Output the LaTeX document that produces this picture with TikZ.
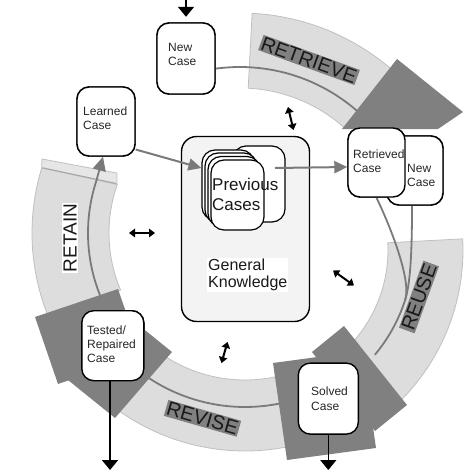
\documentclass[tikz,border=0pt]{standalone}
\usepackage{fontspec}
\setmainfont{Liberation Sans}
\usetikzlibrary{arrows.meta}
\definecolor{bandfill}{RGB}{221,221,221}
\definecolor{bandedge}{RGB}{192,192,192}
\definecolor{tabfill}{RGB}{230,230,230}
\definecolor{flowc}{RGB}{122,122,122}
\definecolor{darkc}{RGB}{128,128,128}
\definecolor{gkfill}{RGB}{243,243,243}
\begin{document}
\begin{tikzpicture}[x=1pt,y=-1pt,
  band/.style={fill=bandfill, draw=bandedge, line width=0.8pt},
  flow/.style={draw=flowc, line width=1.8pt},
  dark/.style={fill=darkc},
  casebox/.style={draw=black, line width=1.4pt, fill=white, rounded corners=12pt, inner sep=0pt},
  cardbox/.style={draw=black, line width=1.2pt, fill=white, rounded corners=13pt, inner sep=0pt},
  casetext/.style={font=\fontsize{12}{14}\selectfont, align=left, inner sep=0pt, text=black!85, anchor=west},
  bandlabel/.style={font=\fontsize{20}{20}\selectfont, inner sep=1.2pt, text=black!90},
  garrow/.style={draw=flowc, line width=2pt, -{Triangle[length=13pt,width=12pt]}},
  barrow/.style={draw=black, line width=1.6pt, -{Triangle[length=10pt,width=16pt]}},
  dbl/.style={draw=black, line width=2pt, {Triangle[length=6pt,width=8.5pt]}-{Triangle[length=6pt,width=8.5pt]}}]
\useasboundingbox (0,0) rectangle (474,474);
% ---- bands ----
\path[band] plot[domain=-87:-48,samples=40] ({240+232*cos(\x)},{245+232*sin(\x)})
  -- plot[domain=-48:-87,samples=40] ({240+157*cos(\x)},{245+157*sin(\x)}) -- cycle;
\path[band] plot[domain=-3:45,samples=40] ({250+213*cos(\x)},{250+213*sin(\x)})
  -- plot[domain=41:-3,samples=40] ({250+138*cos(\x)},{250+138*sin(\x)}) -- cycle;
\path[band] plot[domain=68:128,samples=40] ({245+218*cos(\x)},{233+218*sin(\x)})
  -- plot[domain=128:68,samples=40] ({245+147*cos(\x)},{233+147*sin(\x)}) -- cycle;
\path[band] plot[domain=157:197,samples=40] ({255+223*cos(\x)},{233+223*sin(\x)})
  -- plot[domain=199.4:157,samples=40] ({255+146*cos(\x)},{233+146*sin(\x)}) -- cycle;
\path[fill=tabfill, draw=bandedge, line width=0.8pt] (41.7,167.8) -- (117,184) -- (117,173) -- (42,159) -- cycle;
\draw[draw=gray!70, line width=1pt] (42.5,167.8) -- (116,183.5);
% ---- case boxes (placed early for names) ----
\path (186,58.5) node[casebox, minimum width=58pt, minimum height=71pt] (newcase) {};
\path (106,121.5) node[casebox, minimum width=58pt, minimum height=69pt] (learned) {};
\path (415,170.5) node[casebox, minimum width=56pt, minimum height=69pt] (nc2) {};
\path (376.5,162.5) node[casebox, minimum width=57pt, minimum height=69pt] (retr) {};
\path (112.8,345.7) node[casebox, minimum width=62pt, minimum height=70pt] (tested) {};
\path (328.3,398.6) node[casebox, minimum width=60pt, minimum height=71pt] (solved) {};
% ---- flow lines ----
\draw[flow] ([yshift=-10pt]newcase.east) -- plot[domain=-97:-49,samples=40] ({240+178*cos(\x)},{245+178*sin(\x)});
\draw[flow] (retr.south) .. controls (392,230) and (411.3,280.8) .. (405.2,299.8)
  -- plot[domain=17.8:40,samples=20] ({250+163*cos(\x)},{250+163*sin(\x)});
\draw[flow] ([xshift=-3pt]nc2.south) .. controls (412,240) and (411.3,280.8) .. (405.2,299.8);
\draw[flow] plot[domain=70:126,samples=40] ({245+174*cos(\x)},{233+174*sin(\x)});
\draw[flow, -{Triangle[length=14pt,width=13pt]}] plot[domain=155:198,samples=40] ({255+167*cos(\x)},{233+167*sin(\x)}) -- ([xshift=-3pt]learned.south);
% ---- dark heads and blocks ----
\fill[dark] (397,59) -- (463,112) -- (438,129) -- (342,129) -- cycle;
\fill[dark] (344,326) -- (407,405) -- (375,431) -- (312,352) -- cycle;
\fill[dark] (273,363) -- (362,351) -- (376,448) -- (287,460) -- cycle;
\fill[dark] (172,352) -- (115,418) -- (68,380) -- (125,314) -- cycle;
\fill[dark] (35,317) -- (118,289) -- (141,356) -- (58,384) -- cycle;
% ---- band labels ----
\node[bandlabel, fill=darkc, rotate=-20] (lretrieve) at (309,60) {RETRIEVE};
\node[bandlabel, fill=darkc, rotate=70] (lreuse) at (419,297) {REUSE};
\node[bandlabel, fill=darkc, rotate=-16] (lrevise) at (202.5,418.3) {REVISE};
\node[bandlabel, fill=white, rotate=90, font=\fontsize{19}{19}\selectfont] (lretain) at (70,238) {RETAIN};
% ---- general knowledge ----
\node[draw=black, line width=1.4pt, fill=gkfill, rounded corners=15pt, minimum width=128pt, minimum height=185pt] (gk) at (245.5,229) {};
\node[fill=white, inner sep=1pt, align=left, anchor=west, font=\fontsize{16}{17}\selectfont, text=black!90] (gktext) at (207,275) {General\\Knowledge};
\node[cardbox, minimum width=52pt, minimum height=76pt] (cardR) at (259,184) {};
\node[cardbox, minimum width=52pt, minimum height=70pt] (card1) at (228,185) {};
\node[cardbox, minimum width=52pt, minimum height=70pt] (card2) at (231,188) {};
\node[cardbox, minimum width=52pt, minimum height=70pt] (card3) at (234,191.5) {};
\node[cardbox, minimum width=53pt, minimum height=70pt] (card4) at (237.5,195) {};
\node[inner sep=0pt, align=left, anchor=west, font=\fontsize{17}{20}\selectfont, text=black!90] (prevtext) at (212,194) {Previous\\Cases};
\coordinate (pcout) at (275,168);
\draw[garrow] (pcout) -- ([yshift=-4.5pt]retr.west);
\draw[garrow] ([yshift=-28pt]learned.east) -- ([yshift=17pt]card1.west);
% ---- case boxes redrawn on top ----
\path (186,58.5) node[casebox, minimum width=58pt, minimum height=71pt] (newcaseB) {};
\node[casetext] (tnew) at (168,54) {New\\Case};
\path (106,121.5) node[casebox, minimum width=58pt, minimum height=69pt] (learnedB) {};
\node[casetext] (tlearned) at (83,118.5) {Learned\\Case};
\path (415,170.5) node[casebox, minimum width=56pt, minimum height=69pt] (nc2B) {};
\node[casetext] (tnc2) at (407,175.5) {New\\Case};
\path (376.5,162.5) node[casebox, minimum width=57pt, minimum height=69pt] (retrB) {};
\node[casetext] (tretr) at (353,161.5) {Retrieved\\Case};
\path (112.8,345.7) node[casebox, minimum width=62pt, minimum height=70pt] (testedB) {};
\node[casetext] (ttested) at (87,344) {Tested/\\Repaired\\Case};
\path (328.3,398.6) node[casebox, minimum width=60pt, minimum height=71pt] (solvedB) {};
\node[casetext, font=\fontsize{12}{15}\selectfont] (tsolved) at (311,398.5) {Solved\\Case};
% ---- black arrows ----
\coordinate (inA) at (186,-1);
\draw[barrow] (inA) -- ([yshift=5.5pt]newcase.north);
\coordinate (outT) at (110,470);
\draw[barrow] (tested.south -| outT) -- (outT);
\coordinate (outS) at (328.3,470);
\draw[barrow] (solved.south) -- (outS);
% ---- double arrows ----
\coordinate (d1a) at (288,107); \coordinate (d1b) at (293.5,130);
\draw[dbl] (d1a) -- (d1b);
\coordinate (d2a) at (129,233); \coordinate (d2b) at (155,233);
\draw[dbl] (d2a) -- (d2b);
\coordinate (d3a) at (333,270.5); \coordinate (d3b) at (354,285.5);
\draw[dbl] (d3a) -- (d3b);
\coordinate (d4a) at (227.5,342); \coordinate (d4b) at (221.5,363);
\draw[dbl] (d4a) -- (d4b);
\end{tikzpicture}
\end{document}
